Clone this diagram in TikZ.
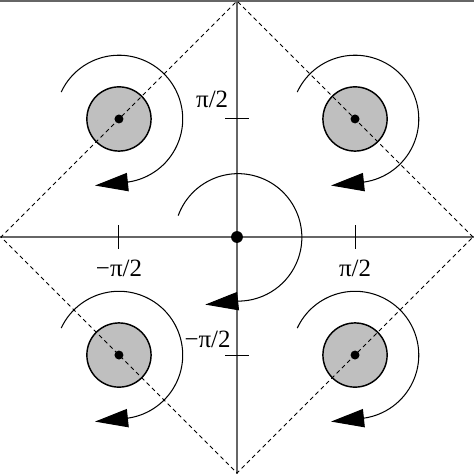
\documentclass[tikz,border=0pt]{standalone}
\usepackage{fontspec}
\setmainfont{Liberation Serif}
\usetikzlibrary{arrows.meta}
\begin{document}
\begin{tikzpicture}[x=2cm,y=2cm, line join=round,
        >={Triangle[length=0.56cm,width=0.31cm]},
        axis/.style={black!60,line width=0.6pt},
        spin/.style={->,line width=0.5pt},
        lbl/.style={font=\fontsize{12}{14}\selectfont,inner sep=0pt}]
                \def\r{0.54}
                \useasboundingbox (-2.008,-2.008) rectangle (2.008,2.008);
                \draw[axis] (-2.008,0)--(2.008,0) (0,-2.008)--(0,2.008);
                \draw[axis] (-2.008,2)--(2.008,2);
                % ticks at +-pi/2
                \foreach \t in {-1,1} {
                    \draw[line width=0.5pt] (\t,-0.1)--(\t,0.1);
                    \draw[line width=0.5pt] (-0.1,\t)--(0.1,\t);
                }
                \node[lbl] (py) at (-0.21,1.17) {π/2};
                \node[lbl] (my) at (-0.25,-0.87) {−π/2};
                \node[lbl] (mx) at (-1,-0.27) {−π/2};
                \node[lbl] (px) at (1,-0.27) {π/2};
                % vortices
                \foreach \x/\y in {-1/1,1/1,-1/-1,1/-1} {
                    \filldraw[fill=black!25,line width=0.7pt] (\x,\y) circle (0.272);
                    \fill (\x,\y) circle (0.038);
                    \draw[spin] (\x,\y) ++(155:\r) arc[start angle=155,end angle=-82,radius=\r] -- ++(186:0.28);
                }
                \draw[dashed,dash pattern=on 2pt off 1.6pt,line width=0.4pt] (2,0)--(0,2)--(-2,0)--(0,-2)--cycle;
                \fill (0,0) circle (0.05);
                \draw[spin] (0,0) ++(160:0.53) arc[start angle=160,end angle=-90,radius=0.54] -- ++(186:0.28);
            \end{tikzpicture}
\end{document}
